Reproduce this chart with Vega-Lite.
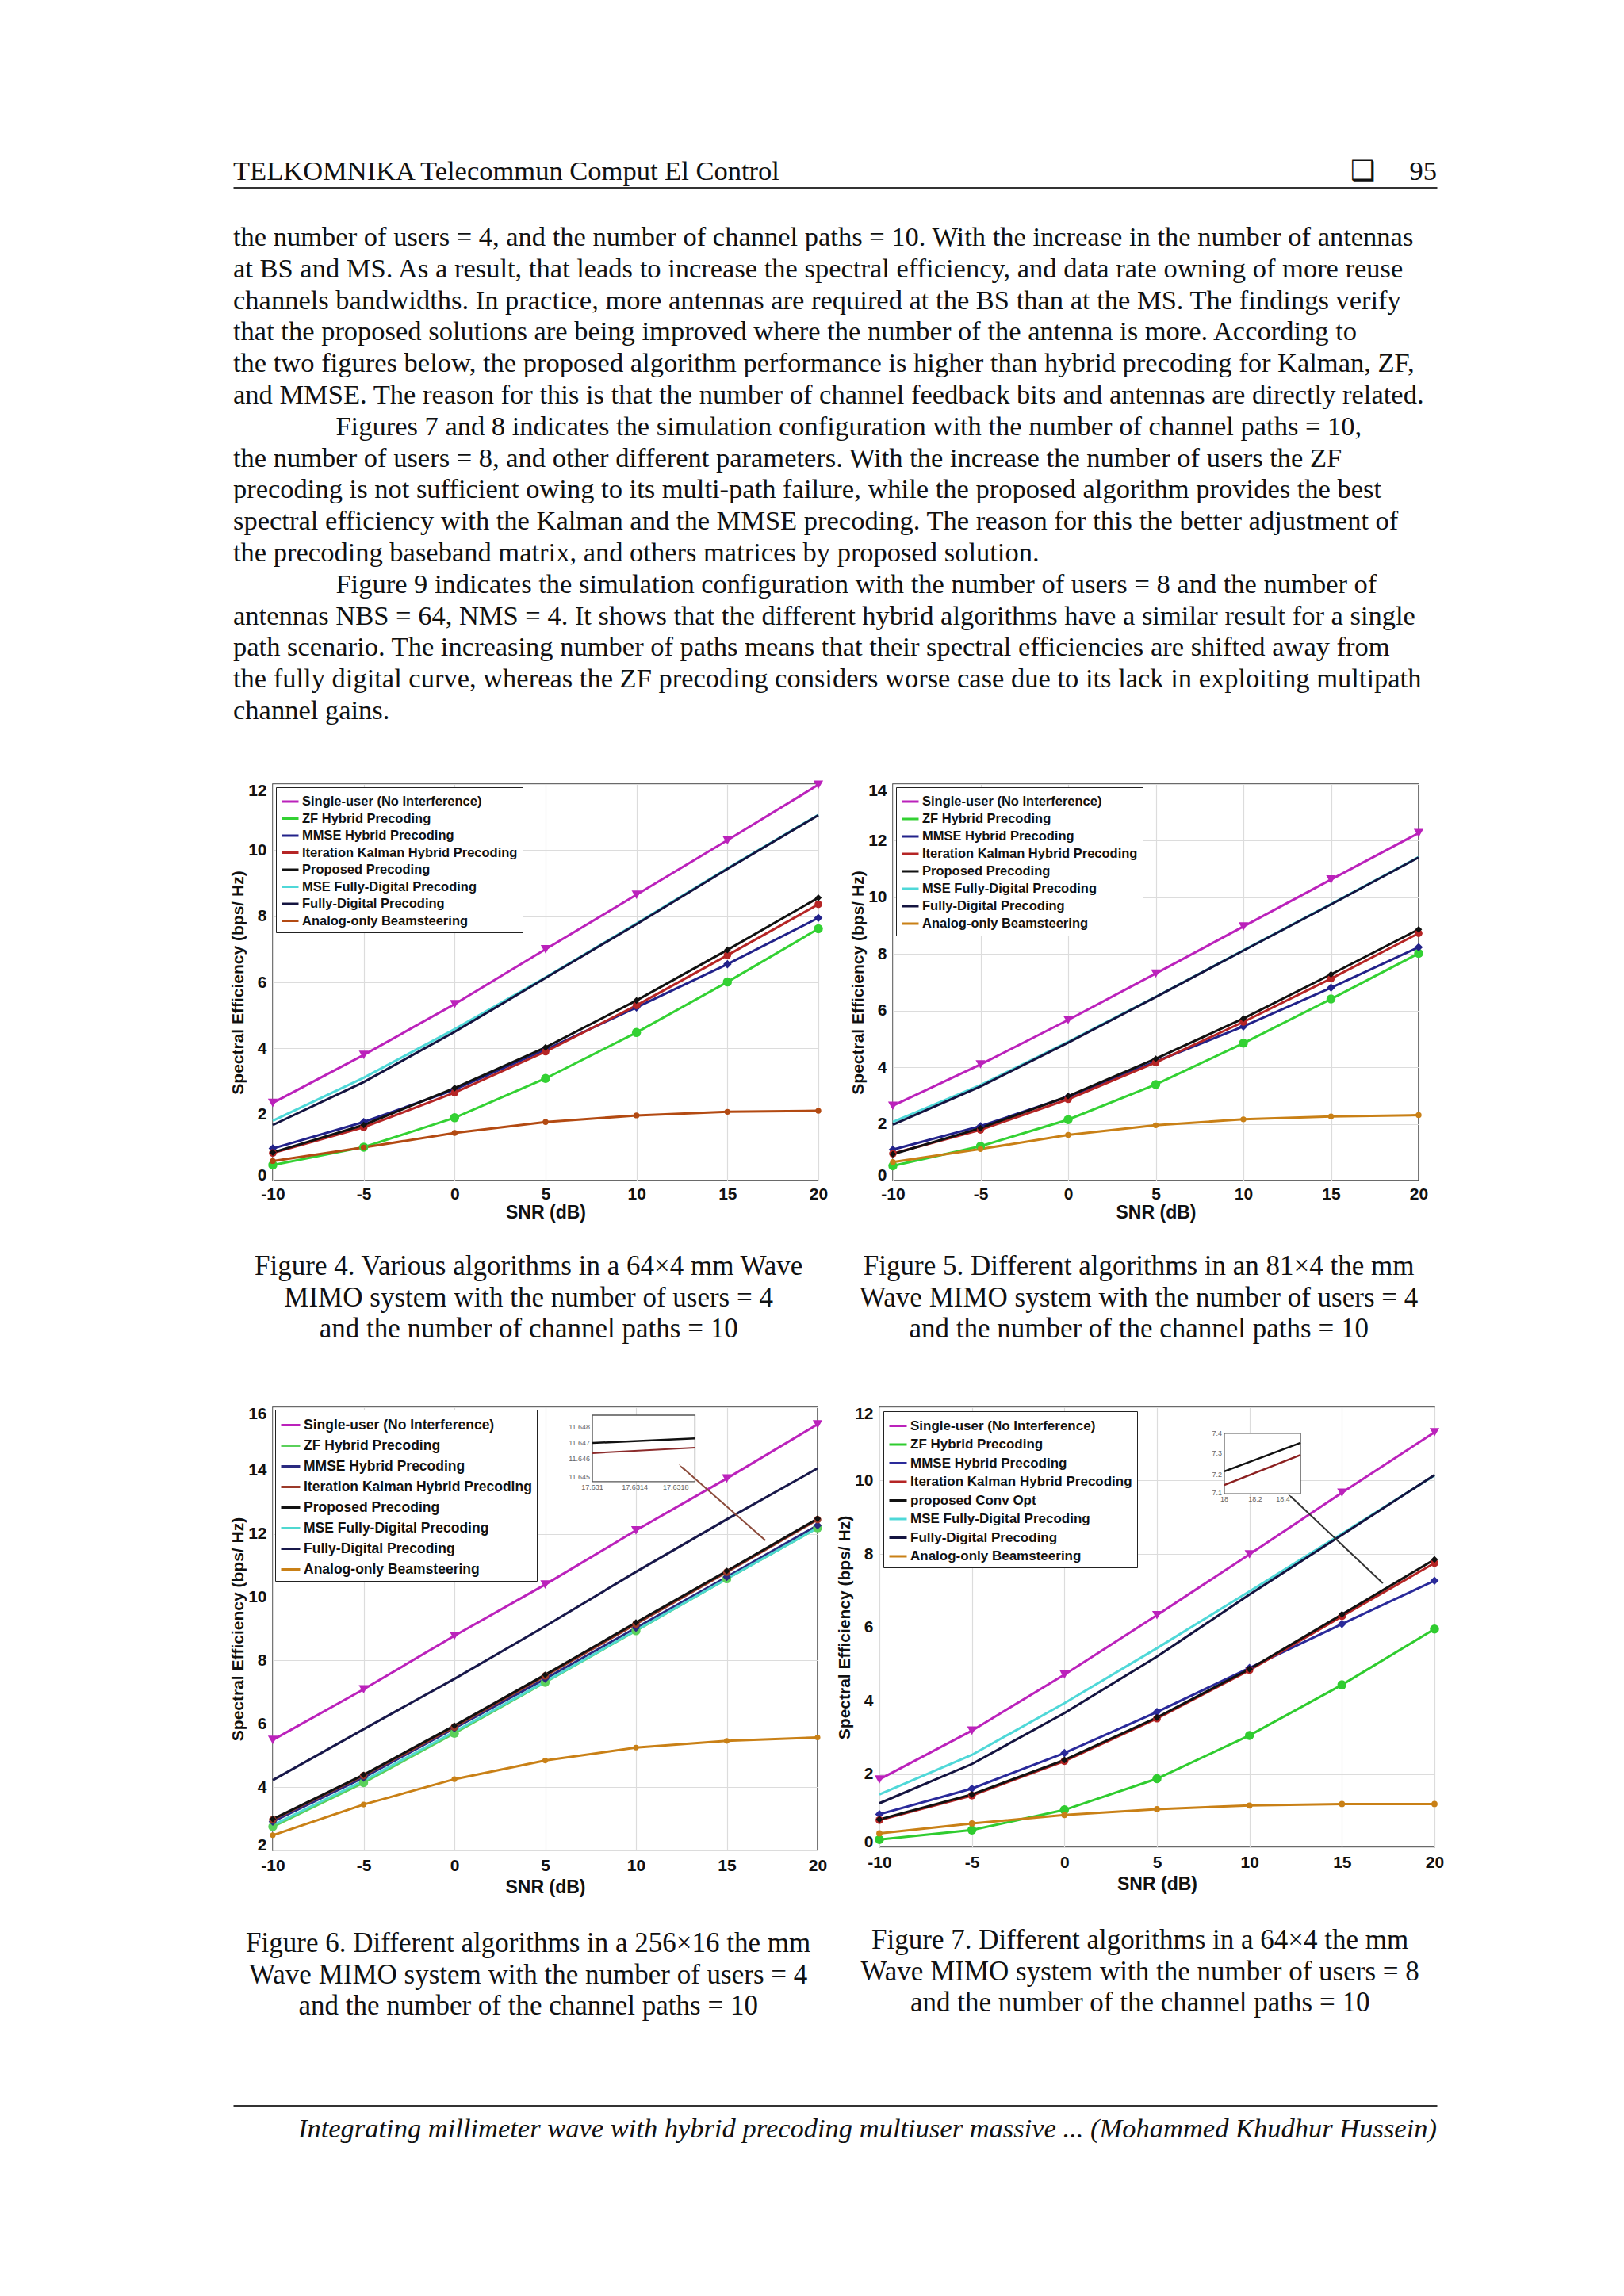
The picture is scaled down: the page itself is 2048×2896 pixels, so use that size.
{
  "$schema": "https://vega.github.io/schema/vega-lite/v6.json",
  "background": "white",
  "padding": {"left": 288, "top": 197, "right": 0, "bottom": 0},
  "config": {"view": {"stroke": null}, "font": "Liberation Sans"},
  "datasets": {
    "c1": [
      {"series": "Single-user (No Interference)", "snr": -10, "se": 2.35}, {"series": "Single-user (No Interference)", "snr": -5, "se": 3.8}, {"series": "Single-user (No Interference)", "snr": 0, "se": 5.34}, {"series": "Single-user (No Interference)", "snr": 5, "se": 7.0}, {"series": "Single-user (No Interference)", "snr": 10, "se": 8.65}, {"series": "Single-user (No Interference)", "snr": 15, "se": 10.3}, {"series": "Single-user (No Interference)", "snr": 20, "se": 11.98},
      {"series": "ZF Hybrid Precoding", "snr": -10, "se": 0.47}, {"series": "ZF Hybrid Precoding", "snr": -5, "se": 1.01}, {"series": "ZF Hybrid Precoding", "snr": 0, "se": 1.9}, {"series": "ZF Hybrid Precoding", "snr": 5, "se": 3.09}, {"series": "ZF Hybrid Precoding", "snr": 10, "se": 4.48}, {"series": "ZF Hybrid Precoding", "snr": 15, "se": 6.01}, {"series": "ZF Hybrid Precoding", "snr": 20, "se": 7.62},
      {"series": "MMSE Hybrid Precoding", "snr": -10, "se": 0.97}, {"series": "MMSE Hybrid Precoding", "snr": -5, "se": 1.77}, {"series": "MMSE Hybrid Precoding", "snr": 0, "se": 2.75}, {"series": "MMSE Hybrid Precoding", "snr": 5, "se": 3.96}, {"series": "MMSE Hybrid Precoding", "snr": 10, "se": 5.24}, {"series": "MMSE Hybrid Precoding", "snr": 15, "se": 6.55}, {"series": "MMSE Hybrid Precoding", "snr": 20, "se": 7.95},
      {"series": "Iteration Kalman Hybrid Precoding", "snr": -10, "se": 0.83}, {"series": "Iteration Kalman Hybrid Precoding", "snr": -5, "se": 1.61}, {"series": "Iteration Kalman Hybrid Precoding", "snr": 0, "se": 2.66}, {"series": "Iteration Kalman Hybrid Precoding", "snr": 5, "se": 3.9}, {"series": "Iteration Kalman Hybrid Precoding", "snr": 10, "se": 5.3}, {"series": "Iteration Kalman Hybrid Precoding", "snr": 15, "se": 6.82}, {"series": "Iteration Kalman Hybrid Precoding", "snr": 20, "se": 8.36},
      {"series": "Proposed Precoding", "snr": -10, "se": 0.85}, {"series": "Proposed Precoding", "snr": -5, "se": 1.68}, {"series": "Proposed Precoding", "snr": 0, "se": 2.8}, {"series": "Proposed Precoding", "snr": 5, "se": 4.03}, {"series": "Proposed Precoding", "snr": 10, "se": 5.45}, {"series": "Proposed Precoding", "snr": 15, "se": 6.98}, {"series": "Proposed Precoding", "snr": 20, "se": 8.56},
      {"series": "MSE Fully-Digital Precoding", "snr": -10, "se": 1.81}, {"series": "MSE Fully-Digital Precoding", "snr": -5, "se": 3.11}, {"series": "MSE Fully-Digital Precoding", "snr": 0, "se": 4.58}, {"series": "MSE Fully-Digital Precoding", "snr": 5, "se": 6.15}, {"series": "MSE Fully-Digital Precoding", "snr": 10, "se": 7.78}, {"series": "MSE Fully-Digital Precoding", "snr": 15, "se": 9.45}, {"series": "MSE Fully-Digital Precoding", "snr": 20, "se": 11.07},
      {"series": "Fully-Digital Precoding", "snr": -10, "se": 1.68}, {"series": "Fully-Digital Precoding", "snr": -5, "se": 2.98}, {"series": "Fully-Digital Precoding", "snr": 0, "se": 4.5}, {"series": "Fully-Digital Precoding", "snr": 5, "se": 6.13}, {"series": "Fully-Digital Precoding", "snr": 10, "se": 7.76}, {"series": "Fully-Digital Precoding", "snr": 15, "se": 9.43}, {"series": "Fully-Digital Precoding", "snr": 20, "se": 11.06},
      {"series": "Analog-only Beamsteering", "snr": -10, "se": 0.59}, {"series": "Analog-only Beamsteering", "snr": -5, "se": 1.0}, {"series": "Analog-only Beamsteering", "snr": 0, "se": 1.44}, {"series": "Analog-only Beamsteering", "snr": 5, "se": 1.77}, {"series": "Analog-only Beamsteering", "snr": 10, "se": 1.97}, {"series": "Analog-only Beamsteering", "snr": 15, "se": 2.08}, {"series": "Analog-only Beamsteering", "snr": 20, "se": 2.11}
    ],
    "c2": [
      {"series": "Single-user (No Interference)", "snr": -10, "se": 2.64}, {"series": "Single-user (No Interference)", "snr": -5, "se": 4.1}, {"series": "Single-user (No Interference)", "snr": 0, "se": 5.67}, {"series": "Single-user (No Interference)", "snr": 5, "se": 7.31}, {"series": "Single-user (No Interference)", "snr": 10, "se": 8.97}, {"series": "Single-user (No Interference)", "snr": 15, "se": 10.63}, {"series": "Single-user (No Interference)", "snr": 20, "se": 12.27},
      {"series": "ZF Hybrid Precoding", "snr": -10, "se": 0.52}, {"series": "ZF Hybrid Precoding", "snr": -5, "se": 1.21}, {"series": "ZF Hybrid Precoding", "snr": 0, "se": 2.15}, {"series": "ZF Hybrid Precoding", "snr": 5, "se": 3.39}, {"series": "ZF Hybrid Precoding", "snr": 10, "se": 4.85}, {"series": "ZF Hybrid Precoding", "snr": 15, "se": 6.41}, {"series": "ZF Hybrid Precoding", "snr": 20, "se": 8.02},
      {"series": "MMSE Hybrid Precoding", "snr": -10, "se": 1.09}, {"series": "MMSE Hybrid Precoding", "snr": -5, "se": 1.92}, {"series": "MMSE Hybrid Precoding", "snr": 0, "se": 2.96}, {"series": "MMSE Hybrid Precoding", "snr": 5, "se": 4.2}, {"series": "MMSE Hybrid Precoding", "snr": 10, "se": 5.44}, {"series": "MMSE Hybrid Precoding", "snr": 15, "se": 6.81}, {"series": "MMSE Hybrid Precoding", "snr": 20, "se": 8.24},
      {"series": "Iteration Kalman Hybrid Precoding", "snr": -10, "se": 0.95}, {"series": "Iteration Kalman Hybrid Precoding", "snr": -5, "se": 1.79}, {"series": "Iteration Kalman Hybrid Precoding", "snr": 0, "se": 2.87}, {"series": "Iteration Kalman Hybrid Precoding", "snr": 5, "se": 4.17}, {"series": "Iteration Kalman Hybrid Precoding", "snr": 10, "se": 5.6}, {"series": "Iteration Kalman Hybrid Precoding", "snr": 15, "se": 7.13}, {"series": "Iteration Kalman Hybrid Precoding", "snr": 20, "se": 8.73},
      {"series": "Proposed Precoding", "snr": -10, "se": 0.93}, {"series": "Proposed Precoding", "snr": -5, "se": 1.85}, {"series": "Proposed Precoding", "snr": 0, "se": 2.98}, {"series": "Proposed Precoding", "snr": 5, "se": 4.3}, {"series": "Proposed Precoding", "snr": 10, "se": 5.72}, {"series": "Proposed Precoding", "snr": 15, "se": 7.28}, {"series": "Proposed Precoding", "snr": 20, "se": 8.87},
      {"series": "MSE Fully-Digital Precoding", "snr": -10, "se": 2.07}, {"series": "MSE Fully-Digital Precoding", "snr": -5, "se": 3.37}, {"series": "MSE Fully-Digital Precoding", "snr": 0, "se": 4.9}, {"series": "MSE Fully-Digital Precoding", "snr": 5, "se": 6.49}, {"series": "MSE Fully-Digital Precoding", "snr": 10, "se": 8.13}, {"series": "MSE Fully-Digital Precoding", "snr": 15, "se": 9.76}, {"series": "MSE Fully-Digital Precoding", "snr": 20, "se": 11.42},
      {"series": "Fully-Digital Precoding", "snr": -10, "se": 1.97}, {"series": "Fully-Digital Precoding", "snr": -5, "se": 3.32}, {"series": "Fully-Digital Precoding", "snr": 0, "se": 4.87}, {"series": "Fully-Digital Precoding", "snr": 5, "se": 6.48}, {"series": "Fully-Digital Precoding", "snr": 10, "se": 8.12}, {"series": "Fully-Digital Precoding", "snr": 15, "se": 9.75}, {"series": "Fully-Digital Precoding", "snr": 20, "se": 11.41},
      {"series": "Analog-only Beamsteering", "snr": -10, "se": 0.65}, {"series": "Analog-only Beamsteering", "snr": -5, "se": 1.11}, {"series": "Analog-only Beamsteering", "snr": 0, "se": 1.61}, {"series": "Analog-only Beamsteering", "snr": 5, "se": 1.95}, {"series": "Analog-only Beamsteering", "snr": 10, "se": 2.16}, {"series": "Analog-only Beamsteering", "snr": 15, "se": 2.26}, {"series": "Analog-only Beamsteering", "snr": 20, "se": 2.31}
    ],
    "c3": [
      {"series": "Single-user (No Interference)", "snr": -10, "se": 5.49}, {"series": "Single-user (No Interference)", "snr": -5, "se": 7.09}, {"series": "Single-user (No Interference)", "snr": 0, "se": 8.78}, {"series": "Single-user (No Interference)", "snr": 5, "se": 10.4}, {"series": "Single-user (No Interference)", "snr": 10, "se": 12.11}, {"series": "Single-user (No Interference)", "snr": 15, "se": 13.75}, {"series": "Single-user (No Interference)", "snr": 20, "se": 15.46},
      {"series": "ZF Hybrid Precoding", "snr": -10, "se": 2.75}, {"series": "ZF Hybrid Precoding", "snr": -5, "se": 4.14}, {"series": "ZF Hybrid Precoding", "snr": 0, "se": 5.7}, {"series": "ZF Hybrid Precoding", "snr": 5, "se": 7.31}, {"series": "ZF Hybrid Precoding", "snr": 10, "se": 8.94}, {"series": "ZF Hybrid Precoding", "snr": 15, "se": 10.58}, {"series": "ZF Hybrid Precoding", "snr": 20, "se": 12.19},
      {"series": "MMSE Hybrid Precoding", "snr": -10, "se": 2.91}, {"series": "MMSE Hybrid Precoding", "snr": -5, "se": 4.3}, {"series": "MMSE Hybrid Precoding", "snr": 0, "se": 5.86}, {"series": "MMSE Hybrid Precoding", "snr": 5, "se": 7.42}, {"series": "MMSE Hybrid Precoding", "snr": 10, "se": 9.03}, {"series": "MMSE Hybrid Precoding", "snr": 15, "se": 10.64}, {"series": "MMSE Hybrid Precoding", "snr": 20, "se": 12.27},
      {"series": "Iteration Kalman Hybrid Precoding", "snr": -10, "se": 2.97}, {"series": "Iteration Kalman Hybrid Precoding", "snr": -5, "se": 4.36}, {"series": "Iteration Kalman Hybrid Precoding", "snr": 0, "se": 5.9}, {"series": "Iteration Kalman Hybrid Precoding", "snr": 5, "se": 7.51}, {"series": "Iteration Kalman Hybrid Precoding", "snr": 10, "se": 9.15}, {"series": "Iteration Kalman Hybrid Precoding", "snr": 15, "se": 10.79}, {"series": "Iteration Kalman Hybrid Precoding", "snr": 20, "se": 12.45},
      {"series": "Proposed Precoding", "snr": -10, "se": 2.99}, {"series": "Proposed Precoding", "snr": -5, "se": 4.39}, {"series": "Proposed Precoding", "snr": 0, "se": 5.94}, {"series": "Proposed Precoding", "snr": 5, "se": 7.55}, {"series": "Proposed Precoding", "snr": 10, "se": 9.2}, {"series": "Proposed Precoding", "snr": 15, "se": 10.83}, {"series": "Proposed Precoding", "snr": 20, "se": 12.48},
      {"series": "MSE Fully-Digital Precoding", "snr": -10, "se": 2.8}, {"series": "MSE Fully-Digital Precoding", "snr": -5, "se": 4.2}, {"series": "MSE Fully-Digital Precoding", "snr": 0, "se": 5.75}, {"series": "MSE Fully-Digital Precoding", "snr": 5, "se": 7.33}, {"series": "MSE Fully-Digital Precoding", "snr": 10, "se": 8.95}, {"series": "MSE Fully-Digital Precoding", "snr": 15, "se": 10.58}, {"series": "MSE Fully-Digital Precoding", "snr": 20, "se": 12.19},
      {"series": "Fully-Digital Precoding", "snr": -10, "se": 4.22}, {"series": "Fully-Digital Precoding", "snr": -5, "se": 5.83}, {"series": "Fully-Digital Precoding", "snr": 0, "se": 7.42}, {"series": "Fully-Digital Precoding", "snr": 5, "se": 9.08}, {"series": "Fully-Digital Precoding", "snr": 10, "se": 10.8}, {"series": "Fully-Digital Precoding", "snr": 15, "se": 12.46}, {"series": "Fully-Digital Precoding", "snr": 20, "se": 14.07},
      {"series": "Analog-only Beamsteering", "snr": -10, "se": 2.48}, {"series": "Analog-only Beamsteering", "snr": -5, "se": 3.45}, {"series": "Analog-only Beamsteering", "snr": 0, "se": 4.25}, {"series": "Analog-only Beamsteering", "snr": 5, "se": 4.84}, {"series": "Analog-only Beamsteering", "snr": 10, "se": 5.25}, {"series": "Analog-only Beamsteering", "snr": 15, "se": 5.46}, {"series": "Analog-only Beamsteering", "snr": 20, "se": 5.57}
    ],
    "c4": [
      {"series": "Single-user (No Interference)", "snr": -10, "se": 1.85}, {"series": "Single-user (No Interference)", "snr": -5, "se": 3.18}, {"series": "Single-user (No Interference)", "snr": 0, "se": 4.71}, {"series": "Single-user (No Interference)", "snr": 5, "se": 6.33}, {"series": "Single-user (No Interference)", "snr": 10, "se": 7.99}, {"series": "Single-user (No Interference)", "snr": 15, "se": 9.67}, {"series": "Single-user (No Interference)", "snr": 20, "se": 11.32},
      {"series": "ZF Hybrid Precoding", "snr": -10, "se": 0.21}, {"series": "ZF Hybrid Precoding", "snr": -5, "se": 0.47}, {"series": "ZF Hybrid Precoding", "snr": 0, "se": 1.02}, {"series": "ZF Hybrid Precoding", "snr": 5, "se": 1.87}, {"series": "ZF Hybrid Precoding", "snr": 10, "se": 3.05}, {"series": "ZF Hybrid Precoding", "snr": 15, "se": 4.43}, {"series": "ZF Hybrid Precoding", "snr": 20, "se": 5.95},
      {"series": "MMSE Hybrid Precoding", "snr": -10, "se": 0.9}, {"series": "MMSE Hybrid Precoding", "snr": -5, "se": 1.6}, {"series": "MMSE Hybrid Precoding", "snr": 0, "se": 2.57}, {"series": "MMSE Hybrid Precoding", "snr": 5, "se": 3.69}, {"series": "MMSE Hybrid Precoding", "snr": 10, "se": 4.89}, {"series": "MMSE Hybrid Precoding", "snr": 15, "se": 6.09}, {"series": "MMSE Hybrid Precoding", "snr": 20, "se": 7.27},
      {"series": "Iteration Kalman Hybrid Precoding", "snr": -10, "se": 0.74}, {"series": "Iteration Kalman Hybrid Precoding", "snr": -5, "se": 1.41}, {"series": "Iteration Kalman Hybrid Precoding", "snr": 0, "se": 2.35}, {"series": "Iteration Kalman Hybrid Precoding", "snr": 5, "se": 3.51}, {"series": "Iteration Kalman Hybrid Precoding", "snr": 10, "se": 4.83}, {"series": "Iteration Kalman Hybrid Precoding", "snr": 15, "se": 6.3}, {"series": "Iteration Kalman Hybrid Precoding", "snr": 20, "se": 7.75},
      {"series": "proposed Conv Opt", "snr": -10, "se": 0.76}, {"series": "proposed Conv Opt", "snr": -5, "se": 1.44}, {"series": "proposed Conv Opt", "snr": 0, "se": 2.38}, {"series": "proposed Conv Opt", "snr": 5, "se": 3.54}, {"series": "proposed Conv Opt", "snr": 10, "se": 4.86}, {"series": "proposed Conv Opt", "snr": 15, "se": 6.35}, {"series": "proposed Conv Opt", "snr": 20, "se": 7.85},
      {"series": "MSE Fully-Digital Precoding", "snr": -10, "se": 1.44}, {"series": "MSE Fully-Digital Precoding", "snr": -5, "se": 2.52}, {"series": "MSE Fully-Digital Precoding", "snr": 0, "se": 3.93}, {"series": "MSE Fully-Digital Precoding", "snr": 5, "se": 5.43}, {"series": "MSE Fully-Digital Precoding", "snr": 10, "se": 6.98}, {"series": "MSE Fully-Digital Precoding", "snr": 15, "se": 8.55}, {"series": "MSE Fully-Digital Precoding", "snr": 20, "se": 10.14},
      {"series": "Fully-Digital Precoding", "snr": -10, "se": 1.2}, {"series": "Fully-Digital Precoding", "snr": -5, "se": 2.27}, {"series": "Fully-Digital Precoding", "snr": 0, "se": 3.66}, {"series": "Fully-Digital Precoding", "snr": 5, "se": 5.2}, {"series": "Fully-Digital Precoding", "snr": 10, "se": 6.89}, {"series": "Fully-Digital Precoding", "snr": 15, "se": 8.52}, {"series": "Fully-Digital Precoding", "snr": 20, "se": 10.15},
      {"series": "Analog-only Beamsteering", "snr": -10, "se": 0.38}, {"series": "Analog-only Beamsteering", "snr": -5, "se": 0.65}, {"series": "Analog-only Beamsteering", "snr": 0, "se": 0.88}, {"series": "Analog-only Beamsteering", "snr": 5, "se": 1.04}, {"series": "Analog-only Beamsteering", "snr": 10, "se": 1.14}, {"series": "Analog-only Beamsteering", "snr": 15, "se": 1.18}, {"series": "Analog-only Beamsteering", "snr": 20, "se": 1.18}
    ],
    "inset3": [
      {"kind": "box", "snr": 7.6, "snr2": 13.25, "se": 15.75, "se2": 13.65},
      {"kind": "a", "snr": 7.6, "se": 14.87}, {"kind": "a", "snr": 13.25, "se": 15.02},
      {"kind": "b", "snr": 7.6, "se": 14.55}, {"kind": "b", "snr": 13.25, "se": 14.72},
      {"kind": "arrow", "snr": 17.13, "se": 11.79, "snr2": 12.54, "se2": 14.1},
      {"kind": "head", "snr": 12.54, "se": 14.1},
      {"kind": "ylab", "snr": 7.6, "se": 15.37, "label": "11.648"}, {"kind": "ylab", "snr": 7.6, "se": 14.87, "label": "11.647"}, {"kind": "ylab", "snr": 7.6, "se": 14.37, "label": "11.646"}, {"kind": "ylab", "snr": 7.6, "se": 13.8, "label": "11.645"},
      {"kind": "xlab", "snr": 7.6, "se": 13.65, "label": "17.631"}, {"kind": "xlab", "snr": 9.94, "se": 13.65, "label": "17.6314"}, {"kind": "xlab", "snr": 12.19, "se": 13.65, "label": "17.6318"}
    ],
    "inset4": [
      {"kind": "box", "snr": 8.64, "snr2": 12.76, "se": 11.29, "se2": 9.64},
      {"kind": "a", "snr": 8.64, "se": 10.25}, {"kind": "a", "snr": 12.76, "se": 11.03},
      {"kind": "b", "snr": 8.64, "se": 9.88}, {"kind": "b", "snr": 12.76, "se": 10.7},
      {"kind": "arrow", "snr": 17.21, "se": 7.2, "snr2": 12.24, "se2": 9.56},
      {"kind": "head", "snr": 12.24, "se": 9.56},
      {"kind": "ylab", "snr": 8.64, "se": 11.29, "label": "7.4"}, {"kind": "ylab", "snr": 8.64, "se": 10.75, "label": "7.3"}, {"kind": "ylab", "snr": 8.64, "se": 10.16, "label": "7.2"}, {"kind": "ylab", "snr": 8.64, "se": 9.66, "label": "7.1"},
      {"kind": "xlab", "snr": 8.64, "se": 9.64, "label": "18"}, {"kind": "xlab", "snr": 10.31, "se": 9.64, "label": "18.2"}, {"kind": "xlab", "snr": 11.81, "se": 9.64, "label": "18.4"}
    ]
  },
  "spacing": 0,
  "vconcat": [
    {
      "width": 1518,
      "height": 40,
      "layer": [
        {
          "data": {"values": [{"text": "TELKOMNIKA Telecommun Comput El Control"}]},
          "mark": {"type": "text", "align": "left", "baseline": "middle", "font": "Liberation Serif", "fontSize": 34.5, "color": "#111"},
          "encoding": {
            "x": {"datum": 0, "type": "quantitative", "scale": {"domain": [0, 1], "range": [-50, 1468], "nice": false, "zero": false},
                  "axis": {"orient": "bottom", "domain": true, "domainColor": "#333", "domainWidth": 3, "ticks": false, "labels": false, "grid": false, "title": null}},
            "text": {"field": "text"}
          }
        },
        {
          "data": {"values": [{"text": "❑\u00a0\u00a0\u00a0\u00a0\u00a095"}]},
          "mark": {"type": "text", "align": "right", "baseline": "middle", "font": "Liberation Serif", "fontSize": 34.5, "color": "#111"},
          "encoding": {
            "x": {"datum": 1, "type": "quantitative"},
            "text": {"field": "text"}
          }
        }
      ]
    },
    {
      "width": 1518,
      "height": 746,
      "data": {"values": [
        {"line": 1, "text": "the number of users = 4, and the number of channel paths = 10. With the increase in the number of antennas"},
        {"line": 2, "text": "at BS and MS. As a result, that leads to increase the spectral efficiency, and data rate owning of more reuse"},
        {"line": 3, "text": "channels bandwidths. In practice, more antennas are required at the BS than at the MS. The findings verify"},
        {"line": 4, "text": "that the proposed solutions are being improved where the number of the antenna is more. According to"},
        {"line": 5, "text": "the two figures below, the proposed algorithm performance is higher than hybrid precoding for Kalman, ZF,"},
        {"line": 6, "text": "and MMSE. The reason for this is that the number of channel feedback bits and antennas are directly related."},
        {"line": 7, "text": "\u200b\u00a0\u00a0\u00a0\u00a0\u00a0\u00a0\u00a0\u00a0\u00a0\u00a0\u00a0\u00a0\u00a0\u00a0\u00a0Figures 7 and 8 indicates the simulation configuration with the number of channel paths = 10,"},
        {"line": 8, "text": "the number of users = 8, and other different parameters. With the increase the number of users the ZF"},
        {"line": 9, "text": "precoding is not sufficient owing to its multi-path failure, while the proposed algorithm provides the best"},
        {"line": 10, "text": "spectral efficiency with the Kalman and the MMSE precoding. The reason for this the better adjustment of"},
        {"line": 11, "text": "the precoding baseband matrix, and others matrices by proposed solution."},
        {"line": 12, "text": "\u200b\u00a0\u00a0\u00a0\u00a0\u00a0\u00a0\u00a0\u00a0\u00a0\u00a0\u00a0\u00a0\u00a0\u00a0\u00a0Figure 9 indicates the simulation configuration with the number of users = 8 and the number of"},
        {"line": 13, "text": "antennas NBS = 64, NMS = 4. It shows that the different hybrid algorithms have a similar result for a single"},
        {"line": 14, "text": "path scenario. The increasing number of paths means that their spectral efficiencies are shifted away from"},
        {"line": 15, "text": "the fully digital curve, whereas the ZF precoding considers worse case due to its lack in exploiting multipath"},
        {"line": 16, "text": "channel gains."}
      ]},
      "mark": {"type": "text", "align": "left", "baseline": "middle", "font": "Liberation Serif", "fontSize": 34.5, "color": "#111"},
      "encoding": {
        "x": {"datum": 0, "type": "quantitative", "scale": {"domain": [0, 1], "range": [-50, 1468], "nice": false, "zero": false}, "axis": null},
        "y": {"field": "line", "type": "quantitative", "scale": {"domain": [-0.583, 18.161], "nice": false, "zero": false, "reverse": true}, "axis": null},
        "text": {"field": "text"}
      }
    },
    {
      "spacing": 76,
      "vconcat": [
        {
          "spacing": 25,
          "hconcat": [
            {
              "width": 688, "height": 500,
              "view": {"stroke": "#3a3a3a", "strokeWidth": 1.5},
              "title": {"text": ["Figure 4. Various algorithms in a 64×4 mm Wave", "MIMO system with the number of users = 4", "and the number of channel paths = 10"], "orient": "bottom", "anchor": "middle", "frame": "bounds", "font": "Liberation Serif", "fontSize": 35, "fontWeight": "normal", "color": "#111", "lineHeight": 39.5, "offset": 39},
              "data": {"name": "c1"},
              "layer": [
                {
                  "mark": {"type": "line", "strokeWidth": 3},
                  "encoding": {
                    "x": {"field": "snr", "type": "quantitative", "scale": {"domain": [-10, 20], "nice": false, "zero": false},
                          "axis": {"values": [-10, -5, 0, 5, 10, 15, 20], "labelExpr": "'' + datum.value", "title": "SNR (dB)", "titleFont": "Liberation Sans", "titleFontSize": 23, "titleFontWeight": "bold", "titleColor": "#111", "titlePadding": 2, "labelFont": "Liberation Sans", "labelFontSize": 21, "labelFontWeight": "bold", "labelColor": "#111", "labelPadding": 6, "labelFlush": false, "labelOverlap": false, "ticks": false, "domain": false, "gridColor": "#dcdcdc", "gridWidth": 1.2}},
                    "y": {"field": "se", "type": "quantitative", "scale": {"domain": [0, 12], "nice": false, "zero": false},
                          "axis": {"values": [0, 2, 4, 6, 8, 10, 12], "title": "Spectral Efficiency (bps/ Hz)", "titleFont": "Liberation Sans", "titleFontSize": 21, "titleFontWeight": "bold", "titleColor": "#111", "titlePadding": 2, "labelFont": "Liberation Sans", "labelFontSize": 21, "labelFontWeight": "bold", "labelColor": "#111", "labelPadding": 8, "labelFlush": true, "labelFlushOffset": 3, "labelOverlap": false, "ticks": false, "domain": false, "gridColor": "#dcdcdc", "gridWidth": 1.2}},
                    "color": {"field": "series", "type": "nominal",
                              "scale": {"domain": ["Single-user (No Interference)", "ZF Hybrid Precoding", "MMSE Hybrid Precoding", "Iteration Kalman Hybrid Precoding", "Proposed Precoding", "MSE Fully-Digital Precoding", "Fully-Digital Precoding", "Analog-only Beamsteering"],
                                        "range": ["#bb22bb", "#33d133", "#22228a", "#b52525", "#111111", "#4fd8d8", "#141440", "#b34a12"]},
                              "legend": {"orient": "top-left", "offset": 4, "title": null, "fillColor": "#ffffff", "strokeColor": "#222222", "padding": 6, "labelFont": "Liberation Sans", "labelFontWeight": "bold", "labelFontSize": 16.5, "labelColor": "#111", "labelLimit": 600, "symbolType": "stroke", "symbolSize": 441, "symbolStrokeWidth": 3, "rowPadding": 0.5, "labelOffset": 3}}
                  }
                },
                {
                  "transform": [{"filter": {"not": {"field": "series", "oneOf": ["MSE Fully-Digital Precoding", "Fully-Digital Precoding"]}}}],
                  "mark": {"type": "point", "filled": true, "opacity": 1},
                  "encoding": {
                    "x": {"field": "snr", "type": "quantitative"},
                    "y": {"field": "se", "type": "quantitative"},
                    "color": {"field": "series", "type": "nominal"},
                    "shape": {"field": "series", "type": "nominal", "scale": {"domain": ["Single-user (No Interference)", "ZF Hybrid Precoding", "MMSE Hybrid Precoding", "Iteration Kalman Hybrid Precoding", "Proposed Precoding", "Analog-only Beamsteering"], "range": ["triangle-down", "circle", "diamond", "circle", "diamond", "circle"]}, "legend": null},
                    "size": {"field": "series", "type": "nominal", "scale": {"domain": ["Single-user (No Interference)", "ZF Hybrid Precoding", "MMSE Hybrid Precoding", "Iteration Kalman Hybrid Precoding", "Proposed Precoding", "Analog-only Beamsteering"], "range": [150, 55, 40, 80, 40, 70]}, "legend": null}
                  }
                }
              ]
            },
            {
              "width": 663, "height": 500,
              "view": {"stroke": "#3a3a3a", "strokeWidth": 1.5},
              "title": {"text": ["Figure 5. Different algorithms in an 81×4 the mm", "Wave MIMO system with the number of users = 4", "and the number of the channel paths = 10"], "orient": "bottom", "anchor": "middle", "frame": "bounds", "font": "Liberation Serif", "fontSize": 35, "fontWeight": "normal", "color": "#111", "lineHeight": 39.5, "offset": 39},
              "data": {"name": "c2"},
              "layer": [
                {
                  "mark": {"type": "line", "strokeWidth": 3},
                  "encoding": {
                    "x": {"field": "snr", "type": "quantitative", "scale": {"domain": [-10, 20], "nice": false, "zero": false},
                          "axis": {"values": [-10, -5, 0, 5, 10, 15, 20], "labelExpr": "'' + datum.value", "title": "SNR (dB)", "titleFont": "Liberation Sans", "titleFontSize": 23, "titleFontWeight": "bold", "titleColor": "#111", "titlePadding": 2, "labelFont": "Liberation Sans", "labelFontSize": 21, "labelFontWeight": "bold", "labelColor": "#111", "labelPadding": 6, "labelFlush": false, "labelOverlap": false, "ticks": false, "domain": false, "gridColor": "#dcdcdc", "gridWidth": 1.2}},
                    "y": {"field": "se", "type": "quantitative", "scale": {"domain": [0, 14], "nice": false, "zero": false},
                          "axis": {"values": [0, 2, 4, 6, 8, 10, 12, 14], "title": "Spectral Efficiency (bps/ Hz)", "titleFont": "Liberation Sans", "titleFontSize": 21, "titleFontWeight": "bold", "titleColor": "#111", "titlePadding": 2, "labelFont": "Liberation Sans", "labelFontSize": 21, "labelFontWeight": "bold", "labelColor": "#111", "labelPadding": 8, "labelFlush": true, "labelFlushOffset": 3, "labelOverlap": false, "ticks": false, "domain": false, "gridColor": "#dcdcdc", "gridWidth": 1.2}},
                    "color": {"field": "series", "type": "nominal",
                              "scale": {"domain": ["Single-user (No Interference)", "ZF Hybrid Precoding", "MMSE Hybrid Precoding", "Iteration Kalman Hybrid Precoding", "Proposed Precoding", "MSE Fully-Digital Precoding", "Fully-Digital Precoding", "Analog-only Beamsteering"],
                                        "range": ["#bb22bb", "#33d133", "#22228a", "#b52525", "#111111", "#4fd8d8", "#141440", "#c98016"]},
                              "legend": {"orient": "top-left", "offset": 4, "title": null, "fillColor": "#ffffff", "strokeColor": "#222222", "padding": 6, "labelFont": "Liberation Sans", "labelFontWeight": "bold", "labelFontSize": 16.5, "labelColor": "#111", "labelLimit": 600, "symbolType": "stroke", "symbolSize": 441, "symbolStrokeWidth": 3, "rowPadding": 1, "labelOffset": 3}}
                  }
                },
                {
                  "transform": [{"filter": {"not": {"field": "series", "oneOf": ["MSE Fully-Digital Precoding", "Fully-Digital Precoding"]}}}],
                  "mark": {"type": "point", "filled": true, "opacity": 1},
                  "encoding": {
                    "x": {"field": "snr", "type": "quantitative"},
                    "y": {"field": "se", "type": "quantitative"},
                    "color": {"field": "series", "type": "nominal"},
                    "shape": {"field": "series", "type": "nominal", "scale": {"domain": ["Single-user (No Interference)", "ZF Hybrid Precoding", "MMSE Hybrid Precoding", "Iteration Kalman Hybrid Precoding", "Proposed Precoding", "Analog-only Beamsteering"], "range": ["triangle-down", "circle", "diamond", "circle", "diamond", "circle"]}, "legend": null},
                    "size": {"field": "series", "type": "nominal", "scale": {"domain": ["Single-user (No Interference)", "ZF Hybrid Precoding", "MMSE Hybrid Precoding", "Iteration Kalman Hybrid Precoding", "Proposed Precoding", "Analog-only Beamsteering"], "range": [150, 55, 40, 80, 40, 70]}, "legend": null}
                  }
                }
              ]
            }
          ],
          "resolve": {"scale": {"x": "independent", "y": "independent", "color": "independent", "shape": "independent", "size": "independent"}, "legend": {"color": "independent"}}
        },
        {
          "spacing": 9,
          "hconcat": [
            {
              "width": 687, "height": 559,
              "view": {"stroke": "#3a3a3a", "strokeWidth": 1.5},
              "title": {"text": ["Figure 6. Different algorithms in a 256×16 the mm", "Wave MIMO system with the number of users = 4", "and the number of the channel paths = 10"], "orient": "bottom", "anchor": "middle", "frame": "bounds", "font": "Liberation Serif", "fontSize": 35, "fontWeight": "normal", "color": "#111", "lineHeight": 39.5, "offset": 42},
              "layer": [
                {
                  "data": {"name": "c3"},
                  "mark": {"type": "line", "strokeWidth": 3},
                  "encoding": {
                    "x": {"field": "snr", "type": "quantitative", "scale": {"domain": [-10, 20], "nice": false, "zero": false},
                          "axis": {"values": [-10, -5, 0, 5, 10, 15, 20], "labelExpr": "'' + datum.value", "title": "SNR (dB)", "titleFont": "Liberation Sans", "titleFontSize": 23, "titleFontWeight": "bold", "titleColor": "#111", "titlePadding": 6, "labelFont": "Liberation Sans", "labelFontSize": 21, "labelFontWeight": "bold", "labelColor": "#111", "labelPadding": 8, "labelFlush": false, "labelOverlap": false, "ticks": false, "domain": false, "gridColor": "#dcdcdc", "gridWidth": 1.2}},
                    "y": {"field": "se", "type": "quantitative", "scale": {"domain": [2, 16], "nice": false, "zero": false},
                          "axis": {"values": [2, 4, 6, 8, 10, 12, 14, 16], "title": "Spectral Efficiency (bps/ Hz)", "titleFont": "Liberation Sans", "titleFontSize": 21, "titleFontWeight": "bold", "titleColor": "#111", "titlePadding": 2, "labelFont": "Liberation Sans", "labelFontSize": 21, "labelFontWeight": "bold", "labelColor": "#111", "labelPadding": 8, "labelFlush": true, "labelFlushOffset": 3, "labelOverlap": false, "ticks": false, "domain": false, "gridColor": "#dcdcdc", "gridWidth": 1.2}},
                    "color": {"field": "series", "type": "nominal",
                              "scale": {"domain": ["Single-user (No Interference)", "ZF Hybrid Precoding", "MMSE Hybrid Precoding", "Iteration Kalman Hybrid Precoding", "Proposed Precoding", "MSE Fully-Digital Precoding", "Fully-Digital Precoding", "Analog-only Beamsteering"],
                                        "range": ["#bb22bb", "#5ad05a", "#2a2a80", "#9c3a2a", "#111111", "#4fd8d0", "#18184a", "#c98016"]},
                              "legend": {"orient": "top-left", "offset": 3, "title": null, "fillColor": "#ffffff", "strokeColor": "#222222", "padding": 6, "labelFont": "Liberation Sans", "labelFontWeight": "bold", "labelFontSize": 17.5, "labelColor": "#111", "labelLimit": 600, "symbolType": "stroke", "symbolSize": 576, "symbolStrokeWidth": 3, "rowPadding": 4, "labelOffset": 3}}
                  }
                },
                {
                  "data": {"name": "c3"},
                  "transform": [{"filter": {"not": {"field": "series", "oneOf": ["MSE Fully-Digital Precoding", "Fully-Digital Precoding"]}}}],
                  "mark": {"type": "point", "filled": true, "opacity": 1},
                  "encoding": {
                    "x": {"field": "snr", "type": "quantitative"},
                    "y": {"field": "se", "type": "quantitative"},
                    "color": {"field": "series", "type": "nominal"},
                    "shape": {"field": "series", "type": "nominal", "scale": {"domain": ["Single-user (No Interference)", "ZF Hybrid Precoding", "MMSE Hybrid Precoding", "Iteration Kalman Hybrid Precoding", "Proposed Precoding", "Analog-only Beamsteering"], "range": ["triangle-down", "circle", "diamond", "circle", "diamond", "circle"]}, "legend": null},
                    "size": {"field": "series", "type": "nominal", "scale": {"domain": ["Single-user (No Interference)", "ZF Hybrid Precoding", "MMSE Hybrid Precoding", "Iteration Kalman Hybrid Precoding", "Proposed Precoding", "Analog-only Beamsteering"], "range": [150, 50, 40, 60, 45, 75]}, "legend": null}
                  }
                },
                {
                  "data": {"name": "inset3"},
                  "transform": [{"filter": "datum.kind === 'box'"}],
                  "mark": {"type": "rect", "fill": "#ffffff", "stroke": "#555555", "strokeWidth": 1.3},
                  "encoding": {"x": {"field": "snr", "type": "quantitative"}, "x2": {"field": "snr2"}, "y": {"field": "se", "type": "quantitative"}, "y2": {"field": "se2"}}
                },
                {
                  "data": {"name": "inset3"},
                  "transform": [{"filter": "datum.kind === 'a'"}],
                  "mark": {"type": "line", "stroke": "#111111", "strokeWidth": 2.5},
                  "encoding": {"x": {"field": "snr", "type": "quantitative"}, "y": {"field": "se", "type": "quantitative"}}
                },
                {
                  "data": {"name": "inset3"},
                  "transform": [{"filter": "datum.kind === 'b'"}],
                  "mark": {"type": "line", "stroke": "#8b2a2a", "strokeWidth": 2},
                  "encoding": {"x": {"field": "snr", "type": "quantitative"}, "y": {"field": "se", "type": "quantitative"}}
                },
                {
                  "data": {"name": "inset3"},
                  "transform": [{"filter": "datum.kind === 'arrow'"}],
                  "mark": {"type": "rule", "stroke": "#8b4a3a", "strokeWidth": 2},
                  "encoding": {"x": {"field": "snr", "type": "quantitative"}, "x2": {"field": "snr2"}, "y": {"field": "se", "type": "quantitative"}, "y2": {"field": "se2"}}
                },
                {
                  "data": {"name": "inset3"},
                  "transform": [{"filter": "datum.kind === 'head'"}],
                  "mark": {"type": "point", "shape": "wedge", "filled": true, "color": "#8b4a3a", "size": 110, "angle": 312, "opacity": 1},
                  "encoding": {"x": {"field": "snr", "type": "quantitative"}, "y": {"field": "se", "type": "quantitative"}}
                },
                {
                  "data": {"name": "inset3"},
                  "transform": [{"filter": "datum.kind === 'ylab'"}],
                  "mark": {"type": "text", "align": "right", "baseline": "middle", "dx": -3, "fontSize": 9, "color": "#666666", "font": "Liberation Sans"},
                  "encoding": {"x": {"field": "snr", "type": "quantitative"}, "y": {"field": "se", "type": "quantitative"}, "text": {"field": "label"}}
                },
                {
                  "data": {"name": "inset3"},
                  "transform": [{"filter": "datum.kind === 'xlab'"}],
                  "mark": {"type": "text", "align": "center", "baseline": "top", "dy": 3, "fontSize": 9, "color": "#666666", "font": "Liberation Sans"},
                  "encoding": {"x": {"field": "snr", "type": "quantitative"}, "y": {"field": "se", "type": "quantitative"}, "text": {"field": "label"}}
                }
              ]
            },
            {
              "width": 700, "height": 555,
              "view": {"stroke": "#3a3a3a", "strokeWidth": 1.5},
              "title": {"text": ["Figure 7. Different algorithms in a 64×4 the mm", "Wave MIMO system with the number of users = 8", "and the number of the channel paths = 10"], "orient": "bottom", "anchor": "middle", "frame": "bounds", "font": "Liberation Serif", "fontSize": 35, "fontWeight": "normal", "color": "#111", "lineHeight": 39.5, "offset": 42},
              "layer": [
                {
                  "data": {"name": "c4"},
                  "mark": {"type": "line", "strokeWidth": 3},
                  "encoding": {
                    "x": {"field": "snr", "type": "quantitative", "scale": {"domain": [-10, 20], "nice": false, "zero": false},
                          "axis": {"values": [-10, -5, 0, 5, 10, 15, 20], "labelExpr": "'' + datum.value", "title": "SNR (dB)", "titleFont": "Liberation Sans", "titleFontSize": 23, "titleFontWeight": "bold", "titleColor": "#111", "titlePadding": 6, "labelFont": "Liberation Sans", "labelFontSize": 21, "labelFontWeight": "bold", "labelColor": "#111", "labelPadding": 8, "labelFlush": false, "labelOverlap": false, "ticks": false, "domain": false, "gridColor": "#dcdcdc", "gridWidth": 1.2}},
                    "y": {"field": "se", "type": "quantitative", "scale": {"domain": [0, 12], "nice": false, "zero": false},
                          "axis": {"values": [0, 2, 4, 6, 8, 10, 12], "title": "Spectral Efficiency (bps/ Hz)", "titleFont": "Liberation Sans", "titleFontSize": 21, "titleFontWeight": "bold", "titleColor": "#111", "titlePadding": 2, "labelFont": "Liberation Sans", "labelFontSize": 21, "labelFontWeight": "bold", "labelColor": "#111", "labelPadding": 8, "labelFlush": true, "labelFlushOffset": 3, "labelOverlap": false, "ticks": false, "domain": false, "gridColor": "#dcdcdc", "gridWidth": 1.2}},
                    "color": {"field": "series", "type": "nominal",
                              "scale": {"domain": ["Single-user (No Interference)", "ZF Hybrid Precoding", "MMSE Hybrid Precoding", "Iteration Kalman Hybrid Precoding", "proposed Conv Opt", "MSE Fully-Digital Precoding", "Fully-Digital Precoding", "Analog-only Beamsteering"],
                                        "range": ["#bb22bb", "#2fcc2f", "#2a2a9a", "#b52525", "#111111", "#4fd8d8", "#141440", "#c98016"]},
                              "legend": {"orient": "top-left", "offset": 5, "title": null, "fillColor": "#ffffff", "strokeColor": "#222222", "padding": 6, "labelFont": "Liberation Sans", "labelFontWeight": "bold", "labelFontSize": 17, "labelColor": "#111", "labelLimit": 600, "symbolType": "stroke", "symbolSize": 484, "symbolStrokeWidth": 3, "rowPadding": 2.5, "labelOffset": 3}}
                  }
                },
                {
                  "data": {"name": "c4"},
                  "transform": [{"filter": {"not": {"field": "series", "oneOf": ["MSE Fully-Digital Precoding", "Fully-Digital Precoding"]}}}],
                  "mark": {"type": "point", "filled": true, "opacity": 1},
                  "encoding": {
                    "x": {"field": "snr", "type": "quantitative"},
                    "y": {"field": "se", "type": "quantitative"},
                    "color": {"field": "series", "type": "nominal"},
                    "shape": {"field": "series", "type": "nominal", "scale": {"domain": ["Single-user (No Interference)", "ZF Hybrid Precoding", "MMSE Hybrid Precoding", "Iteration Kalman Hybrid Precoding", "proposed Conv Opt", "Analog-only Beamsteering"], "range": ["triangle-down", "circle", "diamond", "circle", "diamond", "circle"]}, "legend": null},
                    "size": {"field": "series", "type": "nominal", "scale": {"domain": ["Single-user (No Interference)", "ZF Hybrid Precoding", "MMSE Hybrid Precoding", "Iteration Kalman Hybrid Precoding", "proposed Conv Opt", "Analog-only Beamsteering"], "range": [150, 60, 40, 75, 40, 75]}, "legend": null}
                  }
                },
                {
                  "data": {"name": "inset4"},
                  "transform": [{"filter": "datum.kind === 'box'"}],
                  "mark": {"type": "rect", "fill": "#ffffff", "stroke": "#555555", "strokeWidth": 1.3},
                  "encoding": {"x": {"field": "snr", "type": "quantitative"}, "x2": {"field": "snr2"}, "y": {"field": "se", "type": "quantitative"}, "y2": {"field": "se2"}}
                },
                {
                  "data": {"name": "inset4"},
                  "transform": [{"filter": "datum.kind === 'a'"}],
                  "mark": {"type": "line", "stroke": "#111111", "strokeWidth": 2.5},
                  "encoding": {"x": {"field": "snr", "type": "quantitative"}, "y": {"field": "se", "type": "quantitative"}}
                },
                {
                  "data": {"name": "inset4"},
                  "transform": [{"filter": "datum.kind === 'b'"}],
                  "mark": {"type": "line", "stroke": "#8b2020", "strokeWidth": 2.5},
                  "encoding": {"x": {"field": "snr", "type": "quantitative"}, "y": {"field": "se", "type": "quantitative"}}
                },
                {
                  "data": {"name": "inset4"},
                  "transform": [{"filter": "datum.kind === 'arrow'"}],
                  "mark": {"type": "rule", "stroke": "#333333", "strokeWidth": 2},
                  "encoding": {"x": {"field": "snr", "type": "quantitative"}, "x2": {"field": "snr2"}, "y": {"field": "se", "type": "quantitative"}, "y2": {"field": "se2"}}
                },
                {
                  "data": {"name": "inset4"},
                  "transform": [{"filter": "datum.kind === 'head'"}],
                  "mark": {"type": "point", "shape": "wedge", "filled": true, "color": "#333333", "size": 110, "angle": 313, "opacity": 1},
                  "encoding": {"x": {"field": "snr", "type": "quantitative"}, "y": {"field": "se", "type": "quantitative"}}
                },
                {
                  "data": {"name": "inset4"},
                  "transform": [{"filter": "datum.kind === 'ylab'"}],
                  "mark": {"type": "text", "align": "right", "baseline": "middle", "dx": -3, "fontSize": 9, "color": "#666666", "font": "Liberation Sans"},
                  "encoding": {"x": {"field": "snr", "type": "quantitative"}, "y": {"field": "se", "type": "quantitative"}, "text": {"field": "label"}}
                },
                {
                  "data": {"name": "inset4"},
                  "transform": [{"filter": "datum.kind === 'xlab'"}],
                  "mark": {"type": "text", "align": "center", "baseline": "top", "dy": 3, "fontSize": 9, "color": "#666666", "font": "Liberation Sans"},
                  "encoding": {"x": {"field": "snr", "type": "quantitative"}, "y": {"field": "se", "type": "quantitative"}, "text": {"field": "label"}}
                }
              ]
            }
          ],
          "resolve": {"scale": {"x": "independent", "y": "independent", "color": "independent", "shape": "independent", "size": "independent"}, "legend": {"color": "independent"}}
        },
        {
          "width": 1518,
          "height": 122,
          "data": {"values": [{"text": "Integrating millimeter wave with hybrid precoding multiuser massive ... (Mohammed Khudhur Hussein)"}]},
          "mark": {"type": "text", "align": "right", "baseline": "middle", "font": "Liberation Serif", "fontSize": 34.5, "fontStyle": "italic", "color": "#111"},
          "encoding": {
            "x": {"datum": 1, "type": "quantitative", "scale": {"domain": [0, 1], "range": [-50, 1468], "nice": false, "zero": false},
                  "axis": {"orient": "top", "offset": -31, "domain": true, "domainColor": "#333", "domainWidth": 3, "ticks": false, "labels": false, "grid": false, "title": null}},
            "text": {"field": "text"}
          }
        }
      ],
      "resolve": {"scale": {"x": "independent", "y": "independent", "color": "independent", "shape": "independent", "size": "independent"}, "legend": {"color": "independent"}}
    }
  ],
  "resolve": {"scale": {"x": "independent", "y": "independent", "color": "independent"}, "legend": {"color": "independent"}}
}
